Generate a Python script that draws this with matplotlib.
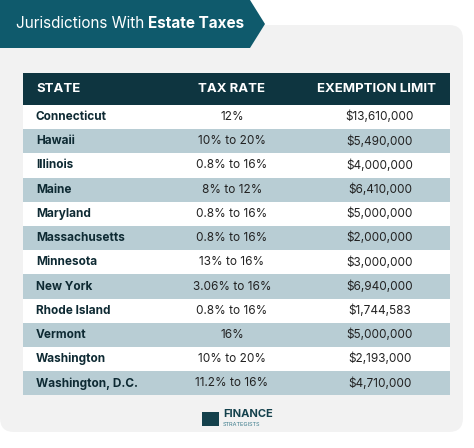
import matplotlib
matplotlib.use("Agg")
import matplotlib.pyplot as plt
from matplotlib.patches import Rectangle, Polygon, FancyBboxPatch

states = ["Connecticut", "Hawaii", "Illinois", "Maine", "Maryland", "Massachusetts",
          "Minnesota", "New York", "Rhode Island", "Vermont", "Washington", "Washington, D.C."]
tax_rates = ["12%", "10% to 20%", "0.8% to 16%", "8% to 12%", "0.8% to 16%", "0.8% to 16%",
             "13% to 16%", "3.06% to 16%", "0.8% to 16%", "16%", "10% to 20%", "11.2% to 16%"]
exemptions = ["$13,610,000", "$5,490,000", "$4,000,000", "$6,410,000", "$5,000,000", "$2,000,000",
              "$3,000,000", "$6,940,000", "$1,744,583", "$5,000,000", "$2,193,000", "$4,710,000"]
headers = ["STATE", "TAX RATE", "EXEMPTION LIMIT"]

plt.rcParams['font.family'] = ['Inter', 'DejaVu Sans']
fig = plt.figure(figsize=(4.74, 4.48), dpi=100)
ax = fig.add_axes([0, 0, 1, 1])
ax.set_xlim(0, 474); ax.set_ylim(448, 0); ax.axis('off')

# panel
ax.add_patch(FancyBboxPatch((0, 25), 463, 407, boxstyle="round,pad=0,rounding_size=14",
                            fc="#f2f2f2", ec="none"))
# banner
ax.add_patch(Polygon([(0, 0), (250, 0), (265, 24), (250, 48), (0, 48)], closed=True,
                     fc="#0f5a6c", ec="none"))
t = ax.text(16, 24, "Jurisdictions With ", color="white", fontsize=11, va="center", ha="left")
fig.canvas.draw()
bb = t.get_window_extent()
x_end = ax.transData.inverted().transform((bb.x1, bb.y0))[0]
ax.text(x_end, 24, "Estate Taxes", color="white", fontsize=11, fontweight="bold", va="center", ha="left")

x0, x1 = 23, 450
top, hh = 73, 32
rh = 24.2
ax.add_patch(Rectangle((x0, top), x1 - x0, hh, fc="#0e3540", ec="none"))
ax.text(36, top + hh / 2, headers[0], color="white", fontsize=9.5, fontweight="bold", va="center")
ax.text(232, top + hh / 2, headers[1], color="white", fontsize=9.5, fontweight="bold", va="center", ha="center")
ax.text(377, top + hh / 2, headers[2], color="white", fontsize=9.5, fontweight="bold", va="center", ha="center")

for i, (s, r, e) in enumerate(zip(states, tax_rates, exemptions)):
    y = top + hh + i * rh
    ax.add_patch(Rectangle((x0, y), x1 - x0, rh, fc="white" if i % 2 == 0 else "#b8cdd4", ec="none"))
    cy = y + rh / 2
    ax.text(36, cy, s, color="#0e2a33", fontsize=8.5, fontweight="bold", va="center")
    ax.text(232, cy, r, color="#222222", fontsize=8.5, va="center", ha="center")
    ax.text(380, cy, e, color="#222222", fontsize=8.5, va="center", ha="center")

# logo
ax.add_patch(Polygon([(202, 412), (219, 412), (219, 426), (202, 426)], fc="#14414c", ec="none"))
ax.text(223, 414, "FINANCE", color="#14414c", fontsize=8, fontweight="bold", va="center")
ax.text(223, 424, "STRATEGISTS", color="#3a7a8a", fontsize=4, va="center")

fig.savefig("out.png", dpi=100)
